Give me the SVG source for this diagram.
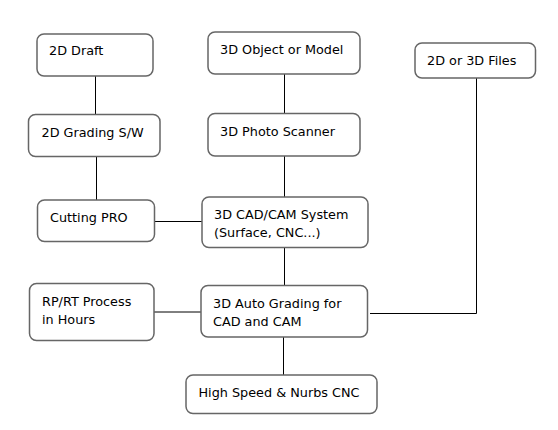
<svg xmlns="http://www.w3.org/2000/svg" width="558" height="430" viewBox="0 0 558 430">
<style>
.box{fill:#fff;stroke:#666;stroke-width:1.5}
.t{font-family:"DejaVu Sans",Verdana,sans-serif;font-size:12.8px;fill:#000}
.c{fill:none;stroke:#000;stroke-width:1}
</style>
<rect width="558" height="430" fill="#fff"/>
<g id="connectors">
<line class="c" x1="95.5" y1="76" x2="95.5" y2="114"/>
<line class="c" x1="96.5" y1="157" x2="96.5" y2="200"/>
<line class="c" x1="284.5" y1="74" x2="284.5" y2="113"/>
<line class="c" x1="284.5" y1="156" x2="284.5" y2="197"/>
<line class="c" x1="154" y1="221.5" x2="202" y2="221.5"/>
<line class="c" x1="284.5" y1="248" x2="284.5" y2="286"/>
<line class="c" x1="154" y1="312" x2="201" y2="312"/>
<line class="c" x1="283.5" y1="337" x2="283.5" y2="375"/>
<polyline class="c" points="370,313.5 476.5,313.5 476.5,78"/>
</g>
<g id="n-2d-draft"><rect class="box" x="37" y="34" width="116" height="42" rx="7"/><text class="t" x="49" y="55">2D Draft</text></g>
<g id="n-3d-object"><rect class="box" x="208" y="32" width="152" height="42" rx="7"/><text class="t" x="220" y="54">3D Object or Model</text></g>
<g id="n-2d-files"><rect class="box" x="415" y="43" width="120.5" height="35" rx="7"/><text class="t" x="427" y="64.5">2D or 3D Files</text></g>
<g id="n-2d-grading"><rect class="box" x="28.5" y="114.5" width="131.5" height="42" rx="7"/><text class="t" x="41.5" y="136.5">2D Grading S/W</text></g>
<g id="n-3d-scanner"><rect class="box" x="208" y="113.5" width="152" height="42.5" rx="7"/><text class="t" x="220" y="136">3D Photo Scanner</text></g>
<g id="n-cutting"><rect class="box" x="37.5" y="200" width="117" height="41.5" rx="7"/><text class="t" x="50" y="221.5">Cutting PRO</text></g>
<g id="n-cadcam"><rect class="box" x="202" y="197" width="166" height="50.5" rx="7"/><text class="t" x="214" y="218.5">3D CAD/CAM System</text><text class="t" x="214" y="237">(Surface, CNC...)</text></g>
<g id="n-rprt"><rect class="box" x="29.5" y="283.5" width="124.5" height="57" rx="7"/><text class="t" x="42" y="305.5">RP/RT Process</text><text class="t" x="42" y="324">in Hours</text></g>
<g id="n-autograding"><rect class="box" x="201" y="285.5" width="166.5" height="51.5" rx="7"/><text class="t" x="213" y="307.5">3D Auto Grading for</text><text class="t" x="213" y="325.5">CAD and CAM</text></g>
<g id="n-highspeed"><rect class="box" x="186" y="375" width="191" height="38.5" rx="7"/><text class="t" x="198.5" y="396.5">High Speed &amp; Nurbs CNC</text></g>
</svg>
